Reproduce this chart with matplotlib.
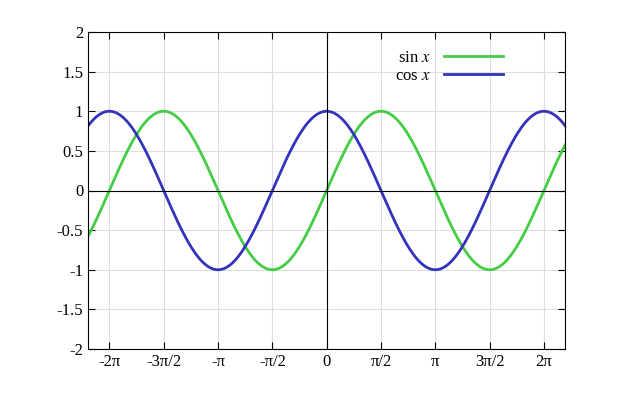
import numpy as np
import matplotlib
matplotlib.use("Agg")
import matplotlib.pyplot as plt

plt.rcParams['font.family'] = ['Liberation Serif', 'DejaVu Serif']
plt.rcParams['mathtext.fontset'] = 'stix'
x_min, x_max = -6.9, 6.9
xticks = [-2*np.pi, -1.5*np.pi, -np.pi, -0.5*np.pi, 0, 0.5*np.pi, np.pi, 1.5*np.pi, 2*np.pi]
xticklabels = ['-2π', '-3π/2', '-π', '-π/2', '0', 'π/2', 'π', '3π/2', '2π']
yticks = [-2, -1.5, -1, -0.5, 0, 0.5, 1, 1.5, 2]
yticklabels = ['-2', '-1.5', '-1', '-0.5', '0', '0.5', '1', '1.5', '2']

x = np.linspace(x_min, x_max, 600)
fig = plt.figure(figsize=(6.38, 4.0), dpi=100)
ax = fig.add_axes([0.138, 0.1275, 0.748, 0.7925])
ax.plot(x, np.sin(x), color='#44cc44', lw=2, label=r'sin $x$')
ax.plot(x, np.cos(x), color='#3333bb', lw=2, label=r'cos $x$')
ax.axhline(0, color='black', lw=0.8)
ax.axvline(0, color='black', lw=0.8)
ax.set_xlim(x_min, x_max)
ax.set_ylim(-2, 2)
ax.set_xticks(xticks, xticklabels)
ax.set_yticks(yticks, yticklabels)
ax.grid(True, color='#dddddd', lw=0.8)
ax.set_axisbelow(True)
ax.tick_params(direction='in', top=True, right=True, labelsize=12, length=5)
for s in ax.spines.values():
    s.set_linewidth(0.8)
leg = ax.legend(loc='upper right', bbox_to_anchor=(0.9, 0.99), frameon=False,
                fontsize=12, markerfirst=False, handlelength=3.5, labelspacing=0.1,
                alignment='left')
fig.savefig('out.png', dpi=100)
